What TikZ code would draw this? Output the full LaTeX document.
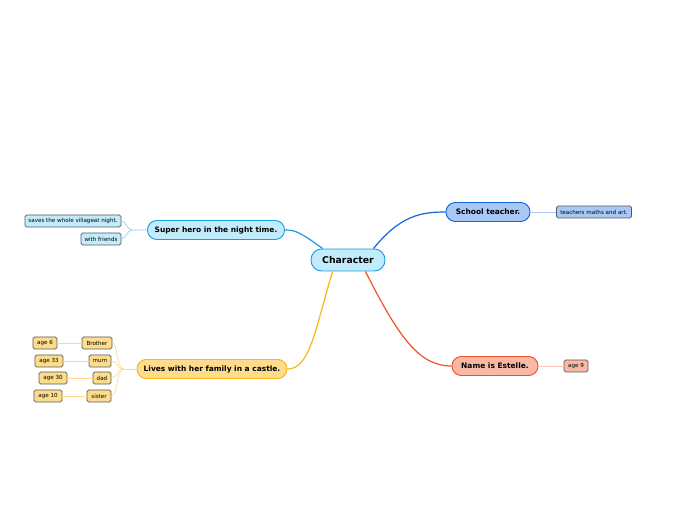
\documentclass[tikz,border=0pt]{standalone}
\usepackage{fontspec}
\setmainfont{DejaVu Sans}
\begin{document}
\begin{tikzpicture}[x=0.75pt,y=-0.75pt,
 topic/.style={draw=#1!80!black,fill=#1,rounded corners=7pt,line width=0.7pt,inner sep=0pt,font=\bfseries\fontsize{5.6}{6}\selectfont},
 leaf/.style={draw=gray!70!black,fill=#1,rounded corners=1.2pt,line width=0.5pt,inner sep=0pt,font=\fontsize{4.2}{5}\selectfont},
 conn/.style={line width=0.9pt,draw=#1},
 thin/.style={line width=0.5pt,draw=#1}]
\definecolor{cblue}{HTML}{C2EBFB}\definecolor{lblue}{HTML}{1B9EE0}
\definecolor{sblue}{HTML}{A8C9F8}\definecolor{dblue}{HTML}{1565D8}
\definecolor{sred}{HTML}{F8B8A4}\definecolor{dred}{HTML}{F0522A}
\definecolor{syel}{HTML}{FDDC8C}\definecolor{dyel}{HTML}{FBB616}
\useasboundingbox (0,0) rectangle (697,520);
\node[draw=lblue,fill=cblue,rounded corners=8pt,line width=0.7pt,minimum width=74*0.75pt,minimum height=22*0.75pt,inner sep=0pt,font=\bfseries\fontsize{7}{8}\selectfont] (c) at (348,260) {Character};
\node[topic=sblue,draw=dblue,minimum width=84*0.75pt,minimum height=19*0.75pt] (st) at (488,212) {School teacher.};
\node[leaf=sblue,minimum width=75*0.75pt,minimum height=12*0.75pt] (tm) at (594,212) {teachers maths and art.};
\node[topic=sred,draw=dred,minimum width=86*0.75pt,minimum height=19*0.75pt] (ne) at (495,366) {Name is Estelle.};
\node[leaf=sred,minimum width=24*0.75pt,minimum height=12*0.75pt] (a9) at (576,366) {age 9};
\node[topic=cblue,draw=lblue,minimum width=137*0.75pt,minimum height=19*0.75pt] (sh) at (216,230) {Super hero in the night time.};
\node[leaf=cblue,minimum width=96*0.75pt,minimum height=12*0.75pt] (sv) at (73,221) {saves the whole villageat night.};
\node[leaf=cblue,minimum width=40*0.75pt,minimum height=12*0.75pt] (wf) at (101,239) {with friends};
\node[topic=syel,draw=dyel,minimum width=150*0.75pt,minimum height=19*0.75pt] (lv) at (212,369) {Lives with her family in a castle.};
\node[leaf=syel,minimum width=30*0.75pt,minimum height=12*0.75pt] (br) at (97,343) {Brother};
\node[leaf=syel,minimum width=22*0.75pt,minimum height=12*0.75pt] (mu) at (100,361) {mum};
\node[leaf=syel,minimum width=18*0.75pt,minimum height=12*0.75pt] (da) at (102,378) {dad};
\node[leaf=syel,minimum width=24*0.75pt,minimum height=12*0.75pt] (si) at (99,396) {sister};
\node[leaf=syel,minimum width=24*0.75pt,minimum height=12*0.75pt] (a6) at (45,343) {age 6};
\node[leaf=syel,minimum width=28*0.75pt,minimum height=12*0.75pt] (a33) at (49,361) {age 33};
\node[leaf=syel,minimum width=28*0.75pt,minimum height=12*0.75pt] (a30) at (53,378) {age 30};
\node[leaf=syel,minimum width=28*0.75pt,minimum height=12*0.75pt] (a10) at (48,396) {age 10};
\coordinate (hs) at (132,230);
\coordinate (hl) at (124,369);
% main connectors
\draw[conn=dblue] (c.north east) ++(-12,0) .. controls (400,216) and (420,212) .. (st.west);
\draw[conn=dred] (c.south east) ++(-20,0) .. controls (400,340) and (420,366) .. (ne.west);
\draw[conn=lblue] (c.north west) ++(12,0) .. controls (300,232) and (295,230) .. (sh.east);
\draw[conn=dyel] (c.south west) ++(22,0) .. controls (315,330) and (310,369) .. (lv.east);
% leaf connectors
\draw[thin=sblue] (st.east) -- (tm.west);
\draw[thin=sred!80] (ne.east) -- (a9.west);
\draw[thin=lblue!50] (sh.west) -- (hs) .. controls (127,230) and (126,221) .. (sv.east);
\draw[thin=lblue!50] (hs) .. controls (127,230) and (126,239) .. (wf.east);
\draw[thin=dyel!50] (lv.west) -- (hl);
\foreach \n in {br,mu,da,si}{\draw[thin=dyel!50] (hl) .. controls (116,369) and (118,0|-\n.east) .. (\n.east);}
\draw[thin=dyel!50] (br) -- (a6);
\draw[thin=dyel!50] (mu) -- (a33);
\draw[thin=dyel!50] (da) -- (a30);
\draw[thin=dyel!50] (si) -- (a10);
\end{tikzpicture}
\end{document}
